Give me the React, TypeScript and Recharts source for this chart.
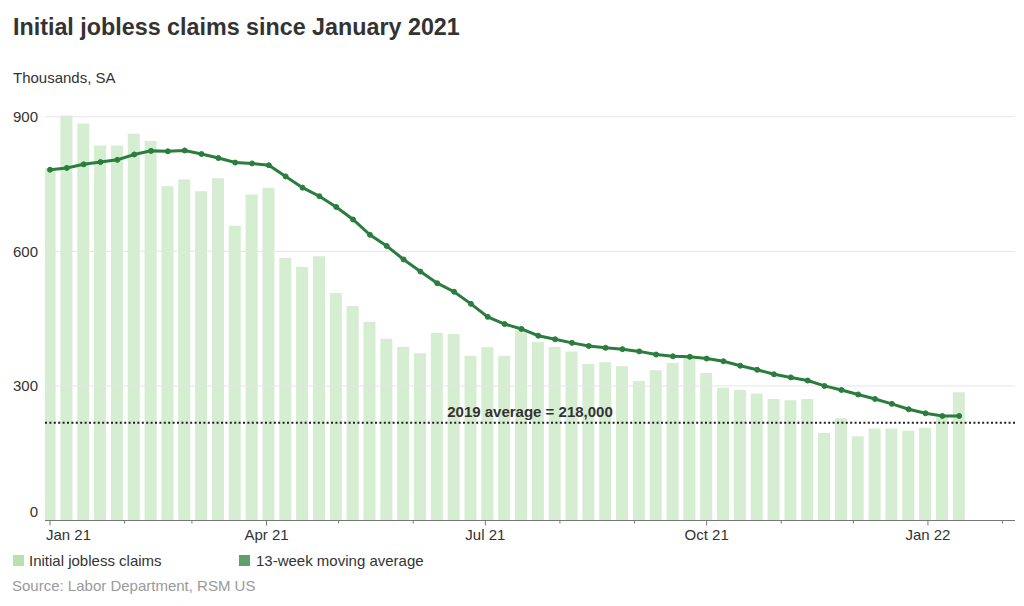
import React from 'react';
import { ComposedChart, Bar, Line, XAxis, YAxis, CartesianGrid, ReferenceLine } from 'recharts';

const weekDates = [
  '2021-01-01', '2021-01-08', '2021-01-15', '2021-01-22', '2021-01-29',
  '2021-02-05', '2021-02-12', '2021-02-19', '2021-02-26',
  '2021-03-05', '2021-03-12', '2021-03-19', '2021-03-26',
  '2021-04-02', '2021-04-09', '2021-04-16', '2021-04-23', '2021-04-30',
  '2021-05-07', '2021-05-14', '2021-05-21', '2021-05-28',
  '2021-06-04', '2021-06-11', '2021-06-18', '2021-06-25',
  '2021-07-02', '2021-07-09', '2021-07-16', '2021-07-23', '2021-07-30',
  '2021-08-06', '2021-08-13', '2021-08-20', '2021-08-27',
  '2021-09-03', '2021-09-10', '2021-09-17', '2021-09-24',
  '2021-10-01', '2021-10-08', '2021-10-15', '2021-10-22', '2021-10-29',
  '2021-11-05', '2021-11-12', '2021-11-19', '2021-11-26',
  '2021-12-03', '2021-12-10', '2021-12-17', '2021-12-24', '2021-12-31',
  '2022-01-07', '2022-01-14',
];

const claims = [
  785, 903, 885, 836, 836, 862, 846, 745, 760, 734,
  763, 657, 727, 742, 585, 565, 589, 507, 478, 443,
  405, 387, 373, 418, 416, 367, 386, 367, 424, 398,
  387, 377, 349, 353, 344, 311, 335, 351, 362, 329,
  296, 291, 283, 271, 268, 271, 195, 228, 188, 205,
  205, 200, 207, 230, 286,
];

const movingAvg = [
  782, 786, 794, 799, 804, 816, 824, 823, 825, 817,
  808, 798, 796, 792, 767, 742, 723, 699, 671, 637,
  612, 582, 555, 529, 510, 483, 454, 438, 427, 412,
  404, 396, 389, 385, 382, 377, 370, 366, 365, 361,
  355, 345, 336, 326, 319, 312, 300, 291, 281, 271,
  260, 248, 239, 233, 233,
];

const monthTicks = [
  '2021-01-01', '2021-02-01', '2021-03-01', '2021-04-01', '2021-05-01', '2021-06-01',
  '2021-07-01', '2021-08-01', '2021-09-01', '2021-10-01', '2021-11-01', '2021-12-01',
  '2022-01-01', '2022-02-01',
];
const monthTickLabels = ['Jan 21', '', '', 'Apr 21', '', '', 'Jul 21', '', '', 'Oct 21', '', '', 'Jan 22', ''];

const yTicks = [0, 300, 600, 900];
const gridValues = [300, 600, 900];
const average2019 = 218;
const average2019Label = '2019 average = 218,000';

const ORIGIN = Date.UTC(2021, 0, 1);
const toDay = (s: string) => (Date.parse(s + 'T00:00:00Z') - ORIGIN) / 86400000;

const data = weekDates.map((d, i) => ({ day: toDay(d), claims: claims[i], avg: movingAvg[i] }));
const tickDays = monthTicks.map(toDay);

const FONT = '"Liberation Sans", Arial, Helvetica, sans-serif';
const BAR_COLOR = '#d5edd0';
const LINE_COLOR = '#2b7d3d';
const TEXT = '#333333';

const XTick = (props: any) => {
  const { x, y, payload } = props;
  const idx = tickDays.indexOf(payload.value);
  const label = idx >= 0 ? monthTickLabels[idx] : '';
  const major = label !== '';
  const first = idx === 0;
  return (
    <g>
      <line x1={x} x2={x} y1={y} y2={y + (major ? 5 : 3)} stroke="#777" strokeWidth={1} />
      {major && (
        <text
          x={first ? x - 4 : x}
          y={y + 19.5}
          textAnchor={first ? 'start' : 'middle'}
          fontSize={15}
          fontFamily={FONT}
          fill={TEXT}
        >
          {label}
        </text>
      )}
    </g>
  );
};

const YTick = (props: any) => {
  const { x, y, payload } = props;
  const shift = payload.value === 0 ? -9 : 0;
  return (
    <text x={x} y={y + shift + 5.4} textAnchor="end" fontSize={15} fontFamily={FONT} fill={TEXT}>
      {payload.value}
    </text>
  );
};

export default function App() {
  return (
    <div style={{ position: 'absolute', left: 0, top: 0, width: 1024, height: 606, background: '#fff', fontFamily: FONT }}>
      <ComposedChart
        width={1024}
        height={606}
        data={data}
        margin={{ top: 112.3, right: 9, bottom: 55.5, left: 0 }}
      >
        <XAxis
          dataKey="day"
          type="number"
          domain={[-2.08, 401.2]}
          ticks={tickDays}
          interval={0}
          allowDataOverflow
          tickLine={false}
          tickSize={0}
          tickMargin={0}
          axisLine={{ stroke: '#777' }}
          height={30}
          tick={(p: any) => <XTick {...p} />}
        />
        <YAxis
          type="number"
          domain={[0, 910]}
          ticks={yTicks}
          interval={0}
          allowDataOverflow
          axisLine={false}
          tickLine={false}
          tickSize={0}
          tickMargin={7}
          width={45}
          tick={(p: any) => <YTick {...p} />}
        />
        {gridValues.map((v) => (
          <ReferenceLine key={v} y={v} stroke="#e6e6e6" strokeWidth={1} />
        ))}
        <Bar dataKey="claims" fill={BAR_COLOR} barSize={12} isAnimationActive={false} />
        <ReferenceLine
          y={average2019}
          stroke="#222"
          strokeWidth={2}
          strokeDasharray="2 2.4"
          label={{
            value: average2019Label,
            position: 'top',
            offset: 6,
            fontSize: 15,
            fontWeight: 'bold',
            fontFamily: FONT,
            fill: TEXT,
          }}
        />
        <Line
          dataKey="avg"
          stroke={LINE_COLOR}
          strokeWidth={3}
          dot={{ r: 2.5, fill: LINE_COLOR, stroke: LINE_COLOR, strokeWidth: 1 }}
          type="linear"
          isAnimationActive={false}
        />
      </ComposedChart>
      <svg width={1024} height={606} style={{ position: 'absolute', left: 0, top: 0, pointerEvents: 'none' }}>
        <text x={13} y={35} fontSize={23.3} fontWeight="bold" fontFamily={FONT} fill={TEXT}>
          Initial jobless claims since January 2021
        </text>
        <text x={13} y={83} fontSize={15} fontFamily={FONT} fill={TEXT}>
          Thousands, SA
        </text>
        <rect x={13} y={555} width={11} height={11} fill="#b7e2af" />
        <text x={29} y={566} fontSize={15} fontFamily={FONT} fill={TEXT}>
          Initial jobless claims
        </text>
        <rect x={239} y={555} width={11} height={11} fill="#5e9e6f" />
        <text x={256} y={566} fontSize={15} fontFamily={FONT} fill={TEXT}>
          13-week moving average
        </text>
        <text x={12} y={591} fontSize={15} fontFamily={FONT} fill="#9a9a9a">
          Source: Labor Department, RSM US
        </text>
      </svg>
    </div>
  );
}
